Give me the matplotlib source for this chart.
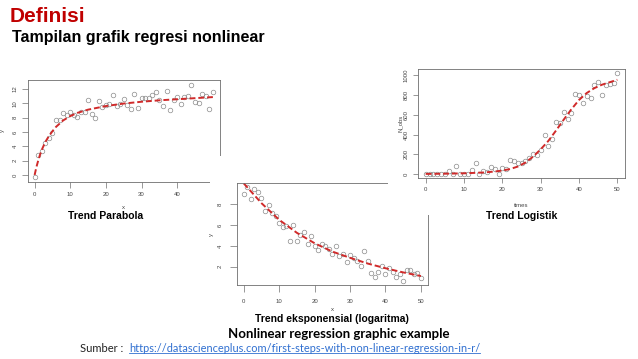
import matplotlib
matplotlib.use("Agg")
import matplotlib.pyplot as plt
from matplotlib.patches import Rectangle
from matplotlib.lines import Line2D

W, H = 638, 359

# --- data ---
xs = list(range(51))

par_y = [-0.3, 2.75, 3.4, 4.4, 5.1, 5.9, 7.6, 7.6, 8.6, 8.4,
         8.8, 8.4, 8.1, 8.8, 8.8, 10.4, 8.5, 8.0, 10.3, 9.5,
         9.7, 9.9, 11.1, 9.6, 9.9, 10.6, 9.8, 9.2, 11.3, 9.3,
         10.7, 10.7, 10.7, 11.2, 11.6, 10.5, 9.6, 11.7, 9.0, 10.5,
         10.8, 9.9, 10.8, 11.0, 12.6, 10.2, 10.0, 11.3, 11.0, 9.2,
         11.5]
par_fit_x = [0, 0.5, 1, 1.5, 2, 3, 4, 5, 6, 8, 10, 12, 15, 20, 25, 30, 35, 40, 45, 50]
par_fit_y = [0, 1.1, 2.0, 2.8, 3.5, 4.6, 5.4, 6.1, 6.7, 7.6, 8.2, 8.65, 9.1, 9.6,
             9.95, 10.2, 10.4, 10.55, 10.7, 10.85]

log_y = [0, 0, 0, 0, 0, 0, 27, 0, 85, 0,
         0, 0, 40, 108, 3, 34, 24, 74, 54, 0,
         57, 47, 145, 128, 108, 108, 128, 162, 203, 193,
         247, 399, 280, 355, 530, 514, 628, 557, 615, 814,
         804, 716, 787, 770, 905, 936, 797, 905, 915, 925,
         1022]
log_fit_x = [0, 5, 10, 15, 18, 20, 22, 24, 26, 28, 30, 32, 34, 36, 38, 40, 42, 44, 46, 48, 50]
log_fit_y = [1, 3, 7, 15, 25, 35, 50, 75, 115, 175, 250, 335, 440, 550, 655, 750,
             820, 870, 905, 930, 955]

exp_y = [8.95, 9.63, 8.5, 9.44, 9.15, 8.6, 7.32, 7.9, 7.13, 6.9,
         6.17, 5.85, 5.9, 4.5, 6.0, 4.5, 5.0, 5.3, 4.15, 4.9,
         4.0, 3.63, 4.18, 4.0, 3.67, 3.2, 3.95, 3.0, 3.2, 2.42,
         3.1, 2.8, 2.5, 2.1, 3.47, 2.58, 1.42, 1.04, 1.52, 2.06,
         1.26, 1.9, 1.49, 1.04, 1.26, 0.62, 1.71, 1.65, 1.33, 1.42,
         0.91]
exp_fit_x = [0, 5, 10, 15, 20, 25, 30, 35, 40, 45, 50]
exp_fit_y = [10.0, 8.1, 6.5, 5.25, 4.25, 3.45, 2.85, 2.3, 1.85, 1.45, 1.1]

BOX = "#6e6e6e"
TXT = "#444444"
PT = "#8c8c8c"
FIT = "#d02a2a"

fig = plt.figure(figsize=(W / 100, H / 100), dpi=100)
fig.patch.set_facecolor("white")


def px_rect(x0, y0, x1, y1):
    return [x0 / W, 1 - y1 / H, (x1 - x0) / W, (y1 - y0) / H]


def panel(x0, y0, x1, y1, z):
    fig.add_artist(Rectangle((x0 / W, 1 - y1 / H), (x1 - x0) / W, (y1 - y0) / H,
                             transform=fig.transFigure, facecolor="white",
                             edgecolor="none", zorder=z))


def r_plot(box, x, y, fx, fy, xlim, ylim, xticks, yticks, xlab, ylab,
           xlab_y, ylab_x, ticklen, pad, z):
    ax = fig.add_axes(px_rect(*box))
    ax.set_zorder(z)
    ax.patch.set_alpha(0)
    ax.plot(x, y, "o", ms=3.3, mfc="none", mec=PT, mew=0.5)
    ax.plot(fx, fy, color=FIT, lw=1.4, dashes=(3, 1.5))
    ax.set_xlim(*xlim)
    ax.set_ylim(*ylim)
    for s in ax.spines.values():
        s.set_color(BOX)
        s.set_linewidth(0.6)
    ax.set_xticks(xticks)
    ax.set_yticks(yticks)
    ax.tick_params(direction="out", length=ticklen, width=0.5, color=BOX,
                   labelsize=4.3, labelcolor=TXT, pad=pad)
    for t in ax.get_yticklabels():
        t.set_rotation(90)
        t.set_va("center")
    ax.set_xlabel(xlab, fontsize=4.3, color=TXT)
    ax.set_ylabel(ylab, fontsize=4.3, color=TXT)
    ax.xaxis.set_label_coords(0.5, xlab_y)
    ax.yaxis.set_label_coords(ylab_x, 0.5)
    return ax


plt.rcParams["font.family"] = ["Liberation Sans", "DejaVu Sans"]

# left: "parabola" (saturating) trend
r_plot((27.5, 79.5, 220, 182), xs, par_y, par_fit_x, par_fit_y,
       (-2, 52), (-0.98, 13.3), [0, 10, 20, 30, 40, 50], [0, 2, 4, 6, 8, 10, 12],
       "x", "y", -0.22, -0.115, 4, 3, 1)

# middle: exponential trend (image sits on top of the left one)
panel(210, 156, 432, 328, 2)
r_plot((236.7, 183.3, 428, 285), xs, exp_y, exp_fit_x, exp_fit_y,
       (-2, 52), (0.24, 10.01), [0, 10, 20, 30, 40, 50], [2, 4, 6, 8],
       "x", "y", -0.22, -0.12, 5, 5, 3)

# right: logistic trend (top-most image)
panel(388, 55, 638, 215, 4)
r_plot((418, 69, 625, 178), xs, log_y, log_fit_x, log_fit_y,
       (-2, 52), (-40.5, 1064), [0, 10, 20, 30, 40, 50], [0, 200, 400, 600, 800, 1000],
       "times", "N_obs", -0.23, -0.072, 3.5, 3, 5)

# slide texts
def ftext(x, y, s, **kw):
    return fig.text(x / W, 1 - y / H, s, zorder=10, **kw)


ftext(10, 21.7, "Definisi", fontsize=15, fontweight="bold", color="#c00000",
      va="baseline")
ftext(12, 42.3, "Tampilan grafik regresi nonlinear", fontsize=11.5,
      fontweight="bold", color="black", va="baseline")
ftext(106, 215.5, "Trend Parabola", fontsize=7.5, fontweight="bold",
      ha="center", va="center")
ftext(522, 215.5, "Trend Logistik", fontsize=7.5, fontweight="bold",
      ha="center", va="center")
ftext(332, 319, "Trend eksponensial (logaritma)", fontsize=7.5,
      fontweight="bold", ha="center", va="center")
ftext(339, 334, "Nonlinear regression graphic example", fontsize=9.5,
      fontweight="bold", ha="center", va="center", family=["Lato", "DejaVu Sans"])
ftext(80, 349, "Sumber :", fontsize=8, ha="left", va="center",
      family=["Lato", "DejaVu Sans"], color="#222222")
url = ftext(129, 349, "https://datascienceplus.com/first-steps-with-non-linear-regression-in-r/",
            fontsize=7.9, ha="left", va="center", family=["Lato", "DejaVu Sans"],
            color="#2f6fd0")

fig.canvas.draw()
bb = url.get_window_extent()
inv = fig.transFigure.inverted()
(ux0, uy), (ux1, _) = inv.transform([(bb.x0, bb.y0 + 1.5), (bb.x1, bb.y0 + 1.5)])
fig.add_artist(Line2D([ux0, ux1], [uy, uy], transform=fig.transFigure,
                      color="#2f6fd0", lw=0.6, zorder=10))

fig.savefig("out.png", dpi=100)
